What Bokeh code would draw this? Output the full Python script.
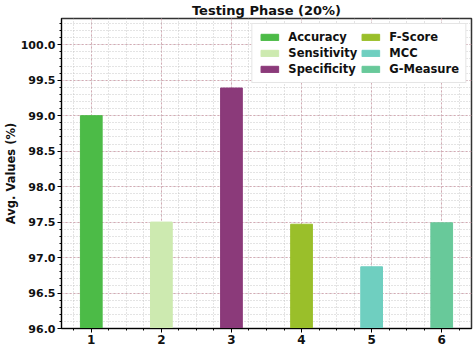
from bokeh.plotting import figure
from bokeh.models import ColumnDataSource, Legend, LegendItem, Range1d, FixedTicker, CustomJSTickFormatter
from bokeh.embed import file_html
from bokeh.resources import INLINE

metrics = ["Accuracy", "Sensitivity", "Specificity", "F-Score", "MCC", "G-Measure"]
positions = [1, 2, 3, 4, 5, 6]
values = [99.00, 97.50, 99.39, 97.47, 96.87, 97.49]
colors = ["#4cbb47", "#cdeab0", "#8b3a7a", "#9abf2a", "#6fcfc0", "#68c99a"]
y_ticks = [96.0, 96.5, 97.0, 97.5, 98.0, 98.5, 99.0, 99.5, 100.0]

FONT = "DejaVu Sans"

p = figure(width=474, height=346, output_backend="svg", toolbar_location=None,
           x_range=Range1d(0.575, 6.425), y_range=Range1d(96.0, 100.37),
           min_border_left=0, min_border_right=3, min_border_top=0, min_border_bottom=0)

p.title.text = "Testing Phase (20%)"
p.title.align = "center"
p.title.text_font = FONT
p.title.text_font_size = "13px"
p.title.text_font_style = "bold"
p.title.text_color = "#111111"
p.title.standoff = 1
p.title.offset = 0

renderers = []
for i in range(len(metrics)):
    src = ColumnDataSource(dict(x=[positions[i]], top=[values[i]]))
    r = p.vbar(x="x", top="top", bottom=96.0, width=0.31, source=src,
               fill_color=colors[i], line_color=colors[i])
    renderers.append(r)

items = [LegendItem(label=metrics[i], renderers=[renderers[i]]) for i in range(len(metrics))]
legend = Legend(items=items, location="top_right", ncols=2, orientation="vertical")
legend.label_text_font = FONT
legend.label_text_font_size = "11.5px"
legend.label_text_font_style = "bold"
legend.label_text_color = "#111111"
legend.glyph_width = 22
legend.glyph_height = 8
legend.label_height = 13
legend.label_standoff = 8
legend.spacing = 2
legend.padding = 6
legend.margin = 5
legend.border_line_color = "#cccccc"
legend.background_fill_alpha = 1.0
p.add_layout(legend)

p.xaxis.ticker = FixedTicker(ticks=positions,
                             minor_ticks=[x / 4 for x in range(2, 27)])
p.yaxis.ticker = FixedTicker(ticks=y_ticks,
                             minor_ticks=[round(96 + k * 0.1, 1) for k in range(0, 44)])
p.yaxis.formatter = CustomJSTickFormatter(code="return tick.toFixed(1);")

p.yaxis.axis_label = "Avg. Values (%)"
for ax in (p.xaxis, p.yaxis):
    ax.major_label_text_font = FONT
    ax.major_label_text_font_size = "11px"
    ax.major_label_text_font_style = "bold"
    ax.major_label_text_color = "#111111"
    ax.axis_label_text_font = FONT
    ax.axis_label_text_font_size = "11.5px"
    ax.axis_label_text_font_style = "bold"
    ax.axis_label_text_color = "#111111"
    ax.axis_label_standoff = 0
    ax.major_label_standoff = 2
    ax.axis_line_color = "black"
    ax.major_tick_line_color = "black"
    ax.minor_tick_line_color = "black"
    ax.major_tick_out = 4
    ax.major_tick_in = 0
    ax.minor_tick_out = 2
    ax.minor_tick_in = 0

p.xaxis.major_label_text_font_size = "12px"
p.xaxis.major_label_standoff = 2

p.xgrid.grid_line_color = "#d4aab4"
p.xgrid.grid_line_dash = "2 2"
p.ygrid.grid_line_color = "#d4aab4"
p.ygrid.grid_line_dash = "2 2"
p.xgrid.minor_grid_line_color = "#bbbbbb"
p.xgrid.minor_grid_line_dash = "1 2"
p.xgrid.minor_grid_line_alpha = 0.8
p.ygrid.minor_grid_line_color = "#bbbbbb"
p.ygrid.minor_grid_line_dash = "1 2"
p.ygrid.minor_grid_line_alpha = 0.8

p.outline_line_color = "#333333"
p.outline_line_width = 1.5

open("out.html", "w").write(file_html(p, INLINE))
